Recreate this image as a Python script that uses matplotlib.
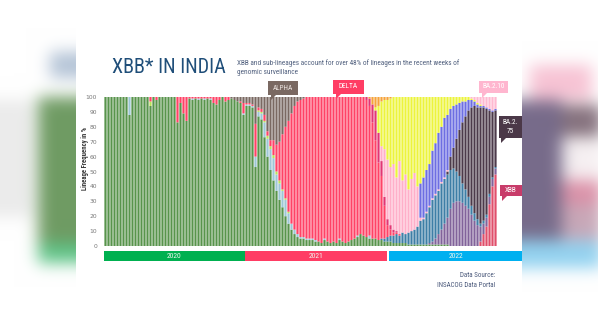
import numpy as np
import matplotlib.pyplot as plt
from matplotlib.patches import Rectangle, Polygon
from matplotlib.transforms import blended_transform_factory

# Weekly lineage shares (%), one value per sequencing week, Jan 2020 -> Nov 2022
other = ([100] * 8 + [88] + [100] * 6 + [94, 100, 98] + [100] * 6
         + [83, 96, 89, 84, 99, 98, 99, 98, 99, 98, 99, 98, 96, 95, 98, 100, 97, 98, 99, 98, 97]
         + [96, 88, 94, 94, 93, 53, 87, 85, 73, 60, 51, 44, 37, 31, 26, 20, 15, 11, 8, 6, 5, 5, 4]
         + [4, 4, 3, 3, 2, 4, 3, 2, 3, 2, 4, 3, 2, 3, 4, 5, 6, 8, 7, 6, 5]
         + [5, 5, 4, 4, 3, 3, 3, 2, 2, 2, 2, 2] + [1] * 14 + [0] * 16)
b_1_36 = ([0] * 8 + [12] + [0] * 20 + [1, 0, 1, 0, 1, 0, 1] + [0] * 9
          + [0, 1, 1, 1, 1, 7, 3, 4, 10, 12, 14, 15, 11, 11, 11, 11, 7, 4, 3, 2, 1, 1, 1]
          + [1, 1, 1, 0, 0, 1, 0, 0, 0, 0, 1, 0, 0, 0, 0, 0, 1, 0, 0, 0, 2]
          + [0] * 42)
kappa = ([0] * 15 + [3] + [0] * 29
         + [0, 0, 0, 0, 0, 0, 1, 1, 1, 2, 2, 2, 2, 2, 1, 1, 1, 0, 0, 0, 0, 0, 0]
         + [0] * 63)
alpha = ([0] * 42 + [1, 2, 3]
         + [3, 4, 4, 4, 5, 18, 7, 8, 12, 23, 29, 29, 32, 30, 25, 20, 16, 11, 6, 3, 2, 1, 0]
         + [0] * 63)
delta = ([0] * 15 + [3, 0, 2] + [0] * 6
         + [17, 4, 11, 16, 1, 1, 1, 1, 1, 1, 1, 1, 4, 5, 2, 0, 3, 2, 0, 0, 0]
         + [1, 7, 1, 1, 1, 22, 2, 2, 4, 3, 4, 10, 18, 26, 37, 48, 61, 74, 83, 89, 92, 93, 95]
         + [95, 95, 96, 97, 98, 95, 97, 98, 97, 98, 95, 97, 98, 97, 96, 95, 93, 92, 93, 92, 87]
         + [78, 66, 52, 42, 22, 8, 4, 2, 1, 1] + [0] * 32)
ay = [0] * 87 + [2, 5] + [12, 20, 20, 10, 6, 4, 3, 2, 1] + [0] * 33
omicron = [0] * 88 + [1] + [5, 7, 6, 3, 2, 2, 1] + [0] * 35
ba_1 = ([0] * 89
        + [0, 2, 18, 30, 33, 40, 46, 45, 54, 43, 56, 52, 62, 55, 51, 60]
        + [58, 54, 49, 45, 36, 31, 24, 20, 14, 12, 8, 6, 5, 4, 3, 3, 2, 1, 1, 1]
        + [1] + [0] * 5)
ba_2 = ([0] * 89
        + [0, 0, 0, 10, 32, 40, 39, 44, 36, 49, 35, 40, 29, 35, 38, 27, 2]
        + [1] * 9 + [0] * 16)
ba_2_38 = ([0] * 89
           + [0, 0, 0, 1, 2, 3, 4, 5, 6, 5, 7, 6, 8, 9, 10, 12, 16, 17, 21, 24, 28, 29,
              29, 31, 30, 29, 26, 23, 20, 17, 13, 11, 8, 6, 5, 4, 2, 2, 2, 2, 1, 1])
ba_5 = ([0] * 105
        + [23, 27, 28, 28, 32, 34, 38, 37, 40, 37, 32, 28, 23, 18, 14, 10, 7, 5, 3, 2,
           1, 1, 1, 1, 1, 1])
ba_2_75_x = ([0] * 108
             + [1, 2, 4, 7, 10, 14, 18, 25, 29, 30, 30, 29, 27, 25, 21, 17, 14, 10, 7, 6,
                5, 5, 4])
ba_2_75 = ([0] * 114
           + [2, 9, 14, 22, 31, 41, 49, 58, 66, 72, 75, 78, 76, 71, 56, 44, 38])
xbb = [0] * 125 + [3, 8, 13, 28, 40, 48]
ba_2_10 = [0] * 122 + [1, 2, 4, 5, 6, 7, 8, 9, 8]

# bottom -> top stacking order
stack = [
    (xbb, '#e04f6b'),
    (other, '#58944c'),
    (ba_2_75_x, '#81639a'),
    (ba_2_38, '#3e7ea6'),
    (b_1_36, '#9dc6d6'),
    (kappa, '#b9e35a'),
    (delta, '#ff4266'),
    (ay, '#e23573'),
    (ba_2_75, '#4c3a4a'),
    (ba_2, '#ffafc9'),
    (ba_5, '#6d6ee2'),
    (ba_1, '#ecf43c'),
    (omicron, '#f6a33a'),
    (alpha, '#7a6962'),
    (ba_2_10, '#ffb8d0'),
]

years = ['2020', '2021', '2022']
year_spans = [(-0.5, 46.4), (46.6, 93.8), (94.4, 139.0)]
year_colors = ['#00b050', '#ff3d64', '#00b0f0']

NARROW = ['Roboto Condensed', 'DejaVu Sans Condensed', 'Roboto']
W, H = 598, 335


def fx(px):
    return px / W


def fy(py):
    return 1 - py / H


def blur(img, sigma):
    r = int(3 * sigma)
    k = np.exp(-0.5 * (np.arange(-r, r + 1) / sigma) ** 2)
    k /= k.sum()
    p = np.pad(img, ((r, r), (r, r), (0, 0)), mode='edge')
    p = np.apply_along_axis(lambda m: np.convolve(m, k, mode='valid'), 0, p)
    p = np.apply_along_axis(lambda m: np.convolve(m, k, mode='valid'), 1, p)
    return p


def side_panel(blocks, width, pad_left, pad_right, sigma):
    img = np.ones((H, width + pad_left + pad_right, 3))
    for x0, x1, y0, y1, c in blocks:
        rgb = np.array([int(c[i:i + 2], 16) / 255 for i in (1, 3, 5)])
        img[y0:y1, x0 + pad_left:x1 + pad_left] = rgb
    img = blur(img, sigma)
    return np.clip(img[:, pad_left:pad_left + width], 0, 1)


def ntext(x, y, s, **kw):
    kw.setdefault('family', NARROW)
    kw.setdefault('fontstretch', 'condensed')
    return fig.text(x, y, s, **kw)


fig = plt.figure(figsize=(5.98, 3.35), dpi=100)
fig.patch.set_facecolor('white')

ax = fig.add_axes([fx(104), fy(246), 393 / W, 149 / H])
x = np.arange(len(other))
bottom = np.zeros(len(other))
for vals, col in stack:
    vals = np.array(vals, dtype=float)
    ax.bar(x, vals, bottom=bottom, width=0.74, color=col, linewidth=0, snap=False)
    bottom += vals

ax.set_xlim(-0.5, len(other) - 0.5)
ax.set_ylim(0, 100)
ax.set_xticks([])
ax.set_yticks(range(0, 101, 10))
ax.tick_params(left=False, labelsize=4.3, labelcolor='#777777', pad=1.5)
for s in ax.spines.values():
    s.set_visible(False)

ntext(fx(85), fy(158), 'Lineage Frequency in %', rotation=90, ha='center', va='center',
      fontsize=4.8, color='#333333', fontweight='bold')

# year strip under the bars
trans = blended_transform_factory(ax.transData, ax.transAxes)
for label, (a, b), col in zip(years, year_spans, year_colors):
    ax.add_patch(Rectangle((a, -0.1007), b - a, 0.067, transform=trans, color=col,
                           clip_on=False, linewidth=0))
    ax.text((a + b) / 2, -0.067, label, transform=trans, ha='center', va='center',
            fontsize=5.5, color='#eef6ee', family=NARROW, fontstretch='condensed')

# header
ntext(fx(112), fy(73), 'XBB* IN INDIA', fontsize=14.5, color='#1f4e79', va='baseline')
ntext(fx(237), fy(65), 'XBB and sub-lineages account for over 48% of lineages in the recent weeks of',
      fontsize=5.2, color='#51607e', va='baseline')
ntext(fx(237), fy(74.5), 'genomic surveillance', fontsize=5.2, color='#51607e', va='baseline')

ntext(fx(495), fy(277), 'Data Source:', fontsize=5, color='#4d5b7c', ha='right', va='baseline')
ntext(fx(495), fy(287), 'INSACOG Data Portal', fontsize=5, color='#4d5b7c', ha='right',
      va='baseline')


def callout(x0, y0, x1, y1, tip_x, label, col, tcol='white'):
    fig.patches.append(Rectangle((fx(x0), fy(y1)), fx(x1) - fx(x0), fy(y0) - fy(y1),
                                 transform=fig.transFigure, color=col, linewidth=0))
    fig.patches.append(Polygon([(fx(tip_x), fy(y1)), (fx(tip_x + 5), fy(y1)),
                                (fx(tip_x), fy(y1 + 5))], closed=True,
                               transform=fig.transFigure, color=col, linewidth=0))
    ntext(fx((x0 + min(x1, 522)) / 2), fy((y0 + y1) / 2), label, ha='center', va='center',
          fontsize=5.2, color=tcol, linespacing=1.5)


callout(268, 81, 298, 95, 271, 'ALPHA', '#7a6962', '#eee6e2')
callout(333, 80, 364, 94, 336, 'DELTA', '#ff3d64')
callout(479, 81, 508, 93, 482, 'BA.2.10', '#ffb6cf')
callout(499, 116, 530, 138, 501, 'BA.2.\n75', '#4b3848')
callout(500, 185, 530, 196, 502, 'XBB', '#c83c6a')

# soft blurred margins either side of the chart panel
left_blocks = [
    (0, 33, 100, 217, '#ebebeb'),
    (38, 110, 97, 245, '#6f9b63'),
    (38, 110, 243, 263, '#5ec487'),
    (50, 110, 52, 78, '#b3c3d6'),
]
right_blocks = [
    (-30, 40, 100, 240, '#776b8a'),
    (8, 70, 65, 100, '#f7c3d4'),
    (40, 80, 105, 137, '#84707c'),
    (40, 80, 140, 178, '#f6f0f2'),
    (40, 80, 180, 205, '#db91a8'),
    (40, 80, 205, 240, '#c8a8b8'),
    (-30, 80, 240, 268, '#92d2f0'),
]
lax = fig.add_axes([0, 0, fx(76), 1])
lax.imshow(side_panel(left_blocks, 76, 0, 40, 8), aspect='auto')
lax.axis('off')
lax.set_zorder(5)
rax = fig.add_axes([fx(522), 0, fx(76), 1])
rax.imshow(side_panel(right_blocks, 76, 40, 10, 8), aspect='auto')
rax.axis('off')
rax.set_zorder(5)

fig.savefig('out.png', dpi=100)
